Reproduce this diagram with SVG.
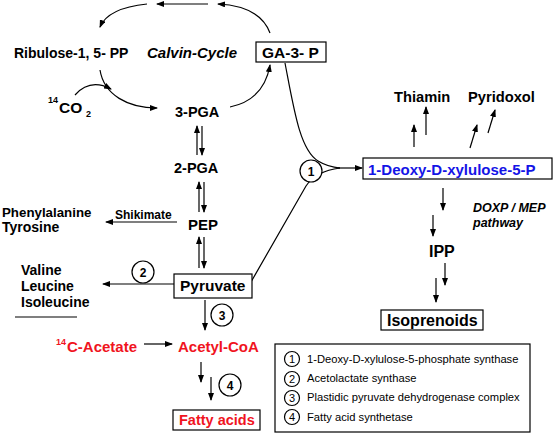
<svg xmlns="http://www.w3.org/2000/svg" width="555" height="435" viewBox="0 0 555 435">
<defs>
<marker id="ah" markerWidth="8" markerHeight="6" refX="7" refY="3" orient="auto" markerUnits="userSpaceOnUse">
<path d="M0,0 L8,3 L0,6 Z" fill="#000"/>
</marker>
<style>
.b{font-family:"Liberation Sans",Arial,sans-serif;font-weight:bold;fill:#000}
.bi{font-family:"Liberation Sans",Arial,sans-serif;font-weight:bold;font-style:italic;fill:#000}
.red{fill:#f0141e}
.blue{fill:#1414e6}
.r{font-family:"Liberation Sans",Arial,sans-serif;font-size:11.2px;fill:#000}
.ln{fill:none;stroke:#000;stroke-width:1.2}
.ar{fill:none;stroke:#000;stroke-width:1.2;marker-end:url(#ah)}
.box{fill:#fff;stroke:#000;stroke-width:1.2}
.cir{fill:#fff;stroke:#000;stroke-width:1.2}
.cn{font-family:"Liberation Sans",Arial,sans-serif;font-weight:bold;font-size:12px;text-anchor:middle}
.ln2{font-family:"Liberation Sans",Arial,sans-serif;font-size:11px;text-anchor:middle}
</style>
</defs>
<rect width="555" height="435" fill="#fff"/>

<g id="connectors">
<path class="ar" d="M147,4 Q108,8 100,27"/>
<path class="ar" d="M208,4 L157,4"/>
<path class="ar" d="M270,33 Q260,6 218,4"/>
<path class="ar" d="M100,70 C104,95 128,108 157,108"/>
<path class="ar" d="M75,95 Q90,78 111,89"/>
<path class="ar" d="M230,107 Q264,100 270,65"/>
<path class="ar" d="M197,155 L197,126"/>
<path class="ar" d="M202,126 L202,155"/>
<path class="ar" d="M199,212 L199,182"/>
<path class="ar" d="M204,182 L204,212"/>
<path class="ar" d="M199,268 L199,237"/>
<path class="ar" d="M204,237 L204,268"/>
<path class="ar" d="M177,222 L106,222"/>
<path class="ar" d="M174,284 L103,284"/>
<path class="ln" d="M15,317 L77,317"/>
<path class="ar" d="M205,300 L205,330"/>
<path class="ar" d="M144,344 L172,344"/>
<path class="ar" d="M201,362 L201,382"/>
<path class="ar" d="M211,377 L211,400"/>
<path class="ln" d="M285,63 C294,110 300,150 318,161 Q328,167 340,168"/>
<path class="ln" d="M251,282 L306,186 Q316,171 340,168"/>
<path class="ar" d="M338,168 L362,168"/>
<path class="ar" d="M414,147 L414,125"/>
<path class="ar" d="M426,135 L426,107"/>
<path class="ar" d="M470,148 L477,125"/>
<path class="ar" d="M488,133 L495,110"/>
<path class="ar" d="M443,188 L443,210"/>
<path class="ar" d="M433,215 L433,236"/>
<path class="ar" d="M445,263 L445,285"/>
<path class="ar" d="M436,278 L436,302"/>
</g>

<g id="ribulose"><text class="b" x="14" y="58" font-size="14">Ribulose-1, 5- PP</text></g>
<g id="calvin"><text class="bi" x="147" y="58" font-size="15">Calvin-Cycle</text></g>
<g id="ga3p"><rect class="box" x="256" y="42" width="70" height="20"/><text class="b" x="262" y="57.5" font-size="15.5">GA-3- P</text></g>
<g id="co2"><text class="b" x="48" y="103" font-size="9">14</text><text class="b" x="59" y="113" font-size="15.5">CO</text><text class="b" x="86" y="117" font-size="9">2</text></g>
<g id="pga3"><text class="b" x="175" y="117" font-size="14.5">3-PGA</text></g>
<g id="pga2"><text class="b" x="174" y="173" font-size="14.5">2-PGA</text></g>
<g id="pep"><text class="b" x="188" y="230" font-size="15">PEP</text></g>
<g id="phe"><text class="b" x="2" y="217" font-size="13.3">Phenylalanine</text><text class="b" x="2" y="232" font-size="14">Tyrosine</text></g>
<g id="shikimate"><text class="b" x="115" y="219" font-size="12">Shikimate</text></g>
<g id="pyruvate"><rect class="box" x="174" y="274" width="78" height="24"/><text class="b" x="180" y="291" font-size="15.5">Pyruvate</text></g>
<g id="valine"><text class="b" x="21" y="275" font-size="14">Valine</text><text class="b" x="21" y="291" font-size="14">Leucine</text><text class="b" x="21" y="307" font-size="14">Isoleucine</text></g>
<g id="acetate"><text class="b red" x="56" y="345" font-size="9">14</text><text class="b red" x="67" y="352" font-size="15">C-Acetate</text></g>
<g id="acetylcoa"><text class="b red" x="178" y="352" font-size="15">Acetyl-CoA</text></g>
<g id="fatty"><rect class="box" x="173" y="410" width="87" height="20"/><text class="b red" x="179" y="425" font-size="14.5">Fatty acids</text></g>
<g id="dxp"><rect class="box" x="363" y="158" width="189" height="21"/><text class="b blue" x="368" y="175" font-size="15">1-Deoxy-D-xylulose-5-P</text></g>
<g id="thiamin"><text class="b" x="394" y="102" font-size="14.7">Thiamin</text></g>
<g id="pyridoxol"><text class="b" x="468" y="102" font-size="14.7">Pyridoxol</text></g>
<g id="doxp"><text class="bi" x="473" y="212" font-size="12.5">DOXP / MEP</text><text class="bi" x="473" y="227" font-size="12.5">pathway</text></g>
<g id="ipp"><text class="b" x="429" y="257" font-size="16">IPP</text></g>
<g id="isoprenoids"><rect class="box" x="381" y="310" width="102" height="20"/><text class="b" x="387" y="326" font-size="16">Isoprenoids</text></g>

<g id="e1"><circle class="cir" cx="311" cy="171" r="11"/><text class="cn" x="311" y="175.5">1</text></g>
<g id="e2"><circle class="cir" cx="143" cy="272" r="11"/><text class="cn" x="143" y="276.5">2</text></g>
<g id="e3"><circle class="cir" cx="222" cy="315" r="11"/><text class="cn" x="222" y="319.5">3</text></g>
<g id="e4"><circle class="cir" cx="230" cy="385" r="11"/><text class="cn" x="230" y="389.5">4</text></g>

<g id="legend">
<rect class="box" x="275" y="344" width="255" height="88"/>
<circle class="cir" cx="292" cy="359" r="7.5"/><text class="ln2" x="292" y="363">1</text>
<circle class="cir" cx="292" cy="379" r="7.5"/><text class="ln2" x="292" y="383">2</text>
<circle class="cir" cx="292" cy="398" r="7.5"/><text class="ln2" x="292" y="402">3</text>
<circle class="cir" cx="292" cy="417" r="7.5"/><text class="ln2" x="292" y="421">4</text>
<text class="r" x="307" y="363">1-Deoxy-D-xylulose-5-phosphate synthase</text>
<text class="r" x="307" y="382">Acetolactate synthase</text>
<text class="r" x="307" y="401">Plastidic pyruvate dehydrogenase complex</text>
<text class="r" x="307" y="421">Fatty acid synthetase</text>
</g>
</svg>
